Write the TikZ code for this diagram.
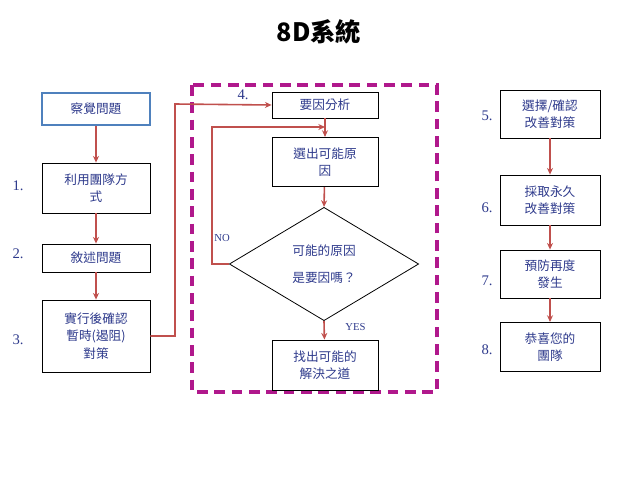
\documentclass[tikz,border=0pt]{standalone}
\usepackage{fontspec}
\setmainfont{Liberation Serif}
\newfontfamily\cjk{Noto Sans CJK TC}
\usetikzlibrary{shapes.geometric,arrows.meta}
\definecolor{txt}{HTML}{2E3A8C}
\definecolor{arr}{HTML}{C0504D}
\definecolor{mag}{HTML}{B0188C}
\definecolor{bblue}{HTML}{4F81BD}
\tikzset{x=0.75pt,y=-0.75pt,
 bx/.style={draw=black,line width=0.6pt,fill=white,text=txt,font=\cjk\fontsize{9.5}{13}\selectfont,align=center,inner sep=0pt},
 num/.style={text=txt,font=\fontsize{11}{12}\selectfont},
 ar/.style={draw=arr,line width=1.2pt,-{Stealth[length=5pt,width=4.5pt]}}}
\begin{document}
\begin{tikzpicture}
\useasboundingbox (0,0) rectangle (638,479);
\node[font=\cjk\bfseries\fontsize{19}{22}\selectfont] (title) at (319,32) {8D系統};
\draw[mag,line width=2.6pt,dash pattern=on 8pt off 5pt] (192,85) rectangle (437,392);
% left column
\node[bx,draw=bblue,line width=2pt,minimum width=81pt,minimum height=24pt] (a) at (96,109) {察覺問題};
\node[bx,minimum width=81pt,minimum height=37.5pt] (b) at (96,188) {利用團隊方\\式};
\node[bx,minimum width=81pt,minimum height=21pt] (c) at (96,258) {敘述問題};
\node[bx,minimum width=81pt,minimum height=54pt] (d) at (96,336) {實行後確認\\暫時(遏阻)\\對策};
\node[num] (n1) at (18,186) {1.};
\node[num] (n2) at (18,254) {2.};
\node[num] (n3) at (18,340) {3.};
\draw[ar] (a) -- (b); \draw[ar] (b) -- (c); \draw[ar] (c) -- (d);
% center
\node[bx,minimum width=79.5pt,minimum height=19.5pt] (e) at (325,105) {要因分析};
\node[bx,minimum width=79.5pt,minimum height=37pt] (f) at (325,162) {選出可能原\\因};
\node[draw=black,line width=0.6pt,diamond,aspect=1.67,minimum width=142pt,minimum height=85pt,inner sep=0pt,text=txt,font=\cjk\fontsize{9.5}{20}\selectfont,align=center] (g) at (324,264) {可能的原因\\是要因嗎？};
\node[bx,minimum width=79.5pt,minimum height=37.5pt] (h) at (325,365) {找出可能的\\解決之道};
\node[num] (n4) at (243,95) {4.};
\coordinate (p1) at (175,337); \coordinate (p2) at (175,104);
\draw[ar] (d.east) -- (d.east -| p1) -- (p2) -- (e.west);
\draw[ar] (e) -- (f); \draw[ar] (f) -- (g.north);
\draw[ar] (g.south) -- (h) node[pos=0.3,right=12pt,text=txt,font=\fontsize{8}{9}\selectfont] (yes) {YES};
\coordinate (q1) at (212,264); \coordinate (q2) at (212,127); \coordinate (q3) at (325,127);
\draw[ar] (g.west) -- (q1) -- (q2) -- (q3);
\node[text=txt,font=\fontsize{8}{9}\selectfont] (no) at (222,238) {NO};
% right column
\node[bx,minimum width=75pt,minimum height=36pt] (r5) at (550,114) {選擇/確認\\改善對策};
\node[bx,minimum width=75pt,minimum height=37.5pt] (r6) at (550,200) {採取永久\\改善對策};
\node[bx,minimum width=75pt,minimum height=36pt] (r7) at (550,274) {預防再度\\發生};
\node[bx,minimum width=75pt,minimum height=37pt] (r8) at (550,347) {恭喜您的\\團隊};
\node[num] (n5) at (487,116) {5.};
\node[num] (n6) at (487,208) {6.};
\node[num] (n7) at (487,281) {7.};
\node[num] (n8) at (487,350) {8.};
\draw[ar] (r5) -- (r6); \draw[ar] (r6) -- (r7); \draw[ar] (r7) -- (r8);
\end{tikzpicture}
\end{document}
